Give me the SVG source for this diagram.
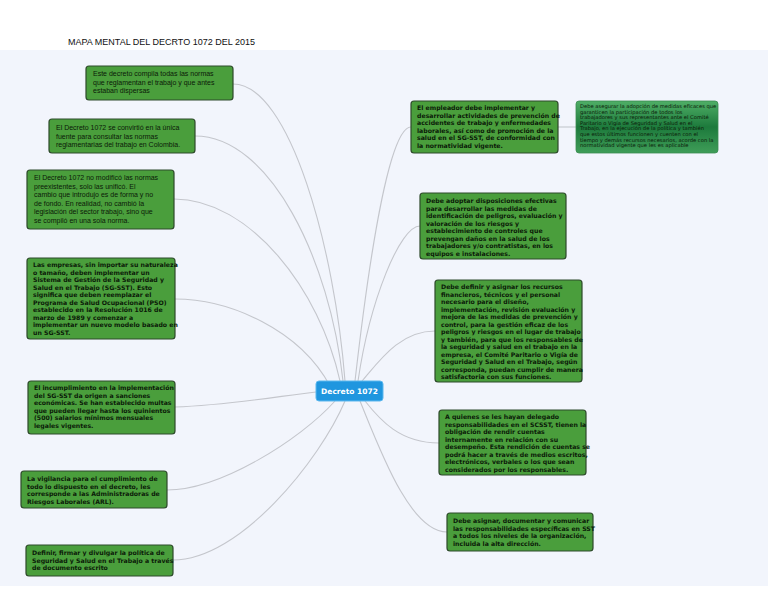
<svg xmlns="http://www.w3.org/2000/svg" width="768" height="594" viewBox="0 0 768 594">
<defs>
<linearGradient id="dg" x1="0" y1="0" x2="0" y2="1">
<stop offset="0" stop-color="#4fae66"/><stop offset="0.5" stop-color="#1d7a3c"/><stop offset="1" stop-color="#3f9d58"/>
</linearGradient>
<style>
.n{fill:#4a9e3c;stroke:#2d4a2a;stroke-width:1.2}
.t{font-family:"Liberation Sans",Arial,sans-serif;font-size:7px;fill:#0b1a08}
.b{font-family:"DejaVu Sans",sans-serif;font-size:6.2px;fill:#0b1a08;font-weight:bold}
.s{font-family:"DejaVu Sans",sans-serif;font-size:5.2px;fill:#0b1a08}
.c{fill:none;stroke:#c4c6cc;stroke-width:1.1}
</style>
</defs>
<rect width="768" height="594" fill="#ffffff"/>
<rect x="0" y="50" width="768" height="536" fill="#f2f5fc"/>
<text x="68" y="45" font-family="Liberation Sans,Arial,sans-serif" font-size="9" fill="#111">MAPA MENTAL DEL DECRTO 1072 DEL 2015</text>
<g id="connectors">
<path class="c" d="M233,84 C290,84 335,250 345,381"/>
<path class="c" d="M195,136 C270,136 330,260 343,381"/>
<path class="c" d="M174,199 C250,199 320,290 340,381"/>
<path class="c" d="M175,299 C230,299 300,330 330,386"/>
<path class="c" d="M175,407 C230,405 280,396 316,392"/>
<path class="c" d="M167,490 C220,490 300,440 335,401"/>
<path class="c" d="M173,560 C240,560 320,460 345,401"/>
<path class="c" d="M411,127 C390,127 370,250 355,381"/>
<path class="c" d="M558,127 L576,127"/>
<path class="c" d="M420,226 C400,226 370,300 358,381"/>
<path class="c" d="M435,331 C400,331 380,360 362,381"/>
<path class="c" d="M439,443 C400,443 380,420 365,401"/>
<path class="c" d="M447,532 C410,532 380,450 360,401"/>
</g>
<g id="center">
<rect x="316" y="381" width="67" height="20" rx="3" fill="#1f96df" stroke="#5cb8ee" stroke-width="1"/>
<text x="349.5" y="394" text-anchor="middle" font-family="DejaVu Sans,sans-serif" font-size="7.5" fill="#fff" font-weight="bold">Decreto 1072</text>
</g>
<g id="l1"><rect class="n" x="86" y="66" width="147" height="34" rx="3"/>
<text class="t" x="93" y="76"><tspan x="93">Este decreto compila todas las normas</tspan><tspan x="93" dy="8.5">que reglamentan el trabajo y que antes</tspan><tspan x="93" dy="8.5">estaban dispersas</tspan></text></g>
<g id="l2"><rect class="n" x="49" y="119" width="146" height="34" rx="3"/>
<text class="t" x="56" y="130"><tspan x="56">El Decreto 1072 se convirtió en la única</tspan><tspan x="56" dy="8.5">fuente para consultar las normas</tspan><tspan x="56" dy="8.5">reglamentarias del trabajo en Colombia.</tspan></text></g>
<g id="l3"><rect class="n" x="27" y="170" width="147" height="59" rx="3"/>
<text class="t" x="34" y="180"><tspan x="34">El Decreto 1072 no modificó las normas</tspan><tspan x="34" dy="8.5">preexistentes, solo las unificó. El</tspan><tspan x="34" dy="8.5">cambio que introdujo es de forma y no</tspan><tspan x="34" dy="8.5">de fondo. En realidad, no cambió la</tspan><tspan x="34" dy="8.5">legislación del sector trabajo, sino que</tspan><tspan x="34" dy="8.5">se compiló en una sola norma.</tspan></text></g>
<g id="l4"><rect class="n" x="27" y="258" width="148" height="81" rx="3"/>
<text class="b" x="33" y="267"><tspan x="33">Las empresas, sin importar su naturaleza</tspan><tspan x="33" dy="7.5">o tamaño, deben implementar un</tspan><tspan x="33" dy="7.5">Sistema de Gestión de la Seguridad y</tspan><tspan x="33" dy="7.5">Salud en el Trabajo (SG-SST). Esto</tspan><tspan x="33" dy="7.5">significa que deben reemplazar el</tspan><tspan x="33" dy="7.5">Programa de Salud Ocupacional (PSO)</tspan><tspan x="33" dy="7.5">establecido en la Resolución 1016 de</tspan><tspan x="33" dy="7.5">marzo de 1989 y comenzar a</tspan><tspan x="33" dy="7.5">implementar un nuevo modelo basado en</tspan><tspan x="33" dy="7.5">un SG-SST.</tspan></text></g>
<g id="l5"><rect class="n" x="28" y="381" width="147" height="53" rx="3"/>
<text class="b" x="34" y="390"><tspan x="34">El incumplimiento en la implementación</tspan><tspan x="34" dy="7.5">del SG-SST da origen a sanciones</tspan><tspan x="34" dy="7.5">económicas. Se han establecido multas</tspan><tspan x="34" dy="7.5">que pueden llegar hasta los quinientos</tspan><tspan x="34" dy="7.5">(500) salarios mínimos mensuales</tspan><tspan x="34" dy="7.5">legales vigentes.</tspan></text></g>
<g id="l6"><rect class="n" x="21" y="471" width="146" height="37" rx="3"/>
<text class="b" x="27" y="481"><tspan x="27">La vigilancia para el cumplimiento de</tspan><tspan x="27" dy="7.5">todo lo dispuesto en el decreto, les</tspan><tspan x="27" dy="7.5">corresponde a las Administradoras de</tspan><tspan x="27" dy="7.5">Riesgos Laborales (ARL).</tspan></text></g>
<g id="l7"><rect class="n" x="26" y="545" width="147" height="31" rx="3"/>
<text class="b" x="32" y="555"><tspan x="32">Definir, firmar y divulgar la política de</tspan><tspan x="32" dy="7.5">Seguridad y Salud en el Trabajo a través</tspan><tspan x="32" dy="7.5">de documento escrito</tspan></text></g>
<g id="r1"><rect class="n" x="411" y="101" width="147" height="52" rx="3"/>
<text class="b" x="417" y="110"><tspan x="417">El empleador debe implementar y</tspan><tspan x="417" dy="7.5">desarrollar actividades de prevención de</tspan><tspan x="417" dy="7.5">accidentes de trabajo y enfermedades</tspan><tspan x="417" dy="7.5">laborales, así como de promoción de la</tspan><tspan x="417" dy="7.5">salud en el SG-SST, de conformidad con</tspan><tspan x="417" dy="7.5">la normatividad vigente.</tspan></text></g>
<g id="r1b"><rect x="576" y="101" width="142" height="52" rx="3" fill="url(#dg)" stroke="#3a8a50" stroke-width="0.8"/>
<text class="s" x="580" y="108"><tspan x="580">Debe asegurar la adopción de medidas eficaces que</tspan><tspan x="580" dy="5.6">garanticen la participación de todos los</tspan><tspan x="580" dy="5.6">trabajadores y sus representantes ante el Comité</tspan><tspan x="580" dy="5.6">Paritario o Vigía de Seguridad y Salud en el</tspan><tspan x="580" dy="5.6">Trabajo, en la ejecución de la política y también</tspan><tspan x="580" dy="5.6">que estos últimos funcionen y cuenten con el</tspan><tspan x="580" dy="5.6">tiempo y demás recursos necesarios, acorde con la</tspan><tspan x="580" dy="5.6">normatividad vigente que les es aplicable</tspan></text></g>
<g id="r2"><rect class="n" x="420" y="193" width="146" height="66" rx="3"/>
<text class="b" x="426" y="203"><tspan x="426">Debe adoptar disposiciones efectivas</tspan><tspan x="426" dy="7.5">para desarrollar las medidas de</tspan><tspan x="426" dy="7.5">identificación de peligros, evaluación y</tspan><tspan x="426" dy="7.5">valoración de los riesgos y</tspan><tspan x="426" dy="7.5">establecimiento de controles que</tspan><tspan x="426" dy="7.5">prevengan daños en la salud de los</tspan><tspan x="426" dy="7.5">trabajadores y/o contratistas, en los</tspan><tspan x="426" dy="7.5">equipos e instalaciones.</tspan></text></g>
<g id="r3"><rect class="n" x="435" y="280" width="147" height="102" rx="3"/>
<text class="b" x="441" y="289"><tspan x="441">Debe definir y asignar los recursos</tspan><tspan x="441" dy="7.5">financieros, técnicos y el personal</tspan><tspan x="441" dy="7.5">necesario para el diseño,</tspan><tspan x="441" dy="7.5">implementación, revisión evaluación y</tspan><tspan x="441" dy="7.5">mejora de las medidas de prevención y</tspan><tspan x="441" dy="7.5">control, para la gestión eficaz de los</tspan><tspan x="441" dy="7.5">peligros y riesgos en el lugar de trabajo</tspan><tspan x="441" dy="7.5">y también, para que los responsables de</tspan><tspan x="441" dy="7.5">la seguridad y salud en el trabajo en la</tspan><tspan x="441" dy="7.5">empresa, el Comité Paritario o Vigía de</tspan><tspan x="441" dy="7.5">Seguridad y Salud en el Trabajo, según</tspan><tspan x="441" dy="7.5">corresponda, puedan cumplir de manera</tspan><tspan x="441" dy="7.5">satisfactoria con sus funciones.</tspan></text></g>
<g id="r4"><rect class="n" x="439" y="410" width="147" height="65" rx="3"/>
<text class="b" x="445" y="419"><tspan x="445">A quienes se les hayan delegado</tspan><tspan x="445" dy="7.5">responsabilidades en el SCSST, tienen la</tspan><tspan x="445" dy="7.5">obligación de rendir cuentas</tspan><tspan x="445" dy="7.5">internamente en relación con su</tspan><tspan x="445" dy="7.5">desempeño. Esta rendición de cuentas se</tspan><tspan x="445" dy="7.5">podrá hacer a través de medios escritos,</tspan><tspan x="445" dy="7.5">electrónicos, verbales o los que sean</tspan><tspan x="445" dy="7.5">considerados por los responsables.</tspan></text></g>
<g id="r5"><rect class="n" x="447" y="513" width="146" height="38" rx="3"/>
<text class="b" x="453" y="523"><tspan x="453">Debe asignar, documentar y comunicar</tspan><tspan x="453" dy="7.5">las responsabilidades específicas en SST</tspan><tspan x="453" dy="7.5">a todos los niveles de la organización,</tspan><tspan x="453" dy="7.5">incluida la alta dirección.</tspan></text></g>
</svg>
